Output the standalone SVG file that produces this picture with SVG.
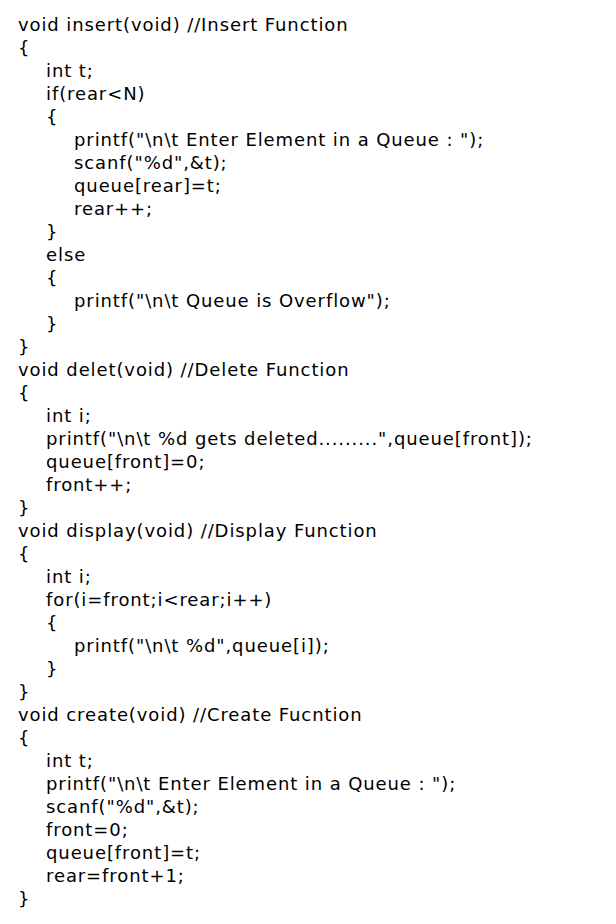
<svg xmlns="http://www.w3.org/2000/svg" width="616" height="924" viewBox="0 0 616 924">
<style>text{font-family:"DejaVu Sans",Verdana,sans-serif;font-size:18px;letter-spacing:0.9px;fill:#000}</style>
<rect width="616" height="924" fill="#fff"/>
<g id="code">
<text x="18" y="31">void insert(void) //Insert Function</text>
<text x="18" y="54">{</text>
<text x="46" y="77">int t;</text>
<text x="46" y="100">if(rear&lt;N)</text>
<text x="46" y="123">{</text>
<text x="74" y="146">printf("\n\t Enter Element in a Queue : ");</text>
<text x="74" y="169">scanf("%d",&amp;t);</text>
<text x="74" y="192">queue[rear]=t;</text>
<text x="74" y="215">rear++;</text>
<text x="46" y="238">}</text>
<text x="46" y="261">else</text>
<text x="46" y="284">{</text>
<text x="74" y="307">printf("\n\t Queue is Overflow");</text>
<text x="46" y="330">}</text>
<text x="18" y="353">}</text>
<text x="18" y="376">void delet(void) //Delete Function</text>
<text x="18" y="399">{</text>
<text x="46" y="422">int i;</text>
<text x="46" y="445">printf("\n\t %d gets deleted.........",queue[front]);</text>
<text x="46" y="468">queue[front]=0;</text>
<text x="46" y="491">front++;</text>
<text x="18" y="514">}</text>
<text x="18" y="537">void display(void) //Display Function</text>
<text x="18" y="560">{</text>
<text x="46" y="583">int i;</text>
<text x="46" y="606">for(i=front;i&lt;rear;i++)</text>
<text x="46" y="629">{</text>
<text x="74" y="652">printf("\n\t %d",queue[i]);</text>
<text x="46" y="675">}</text>
<text x="18" y="698">}</text>
<text x="18" y="721">void create(void) //Create Fucntion</text>
<text x="18" y="744">{</text>
<text x="46" y="767">int t;</text>
<text x="46" y="790">printf("\n\t Enter Element in a Queue : ");</text>
<text x="46" y="813">scanf("%d",&amp;t);</text>
<text x="46" y="836">front=0;</text>
<text x="46" y="859">queue[front]=t;</text>
<text x="46" y="882">rear=front+1;</text>
<text x="18" y="905">}</text>
</g>
</svg>
